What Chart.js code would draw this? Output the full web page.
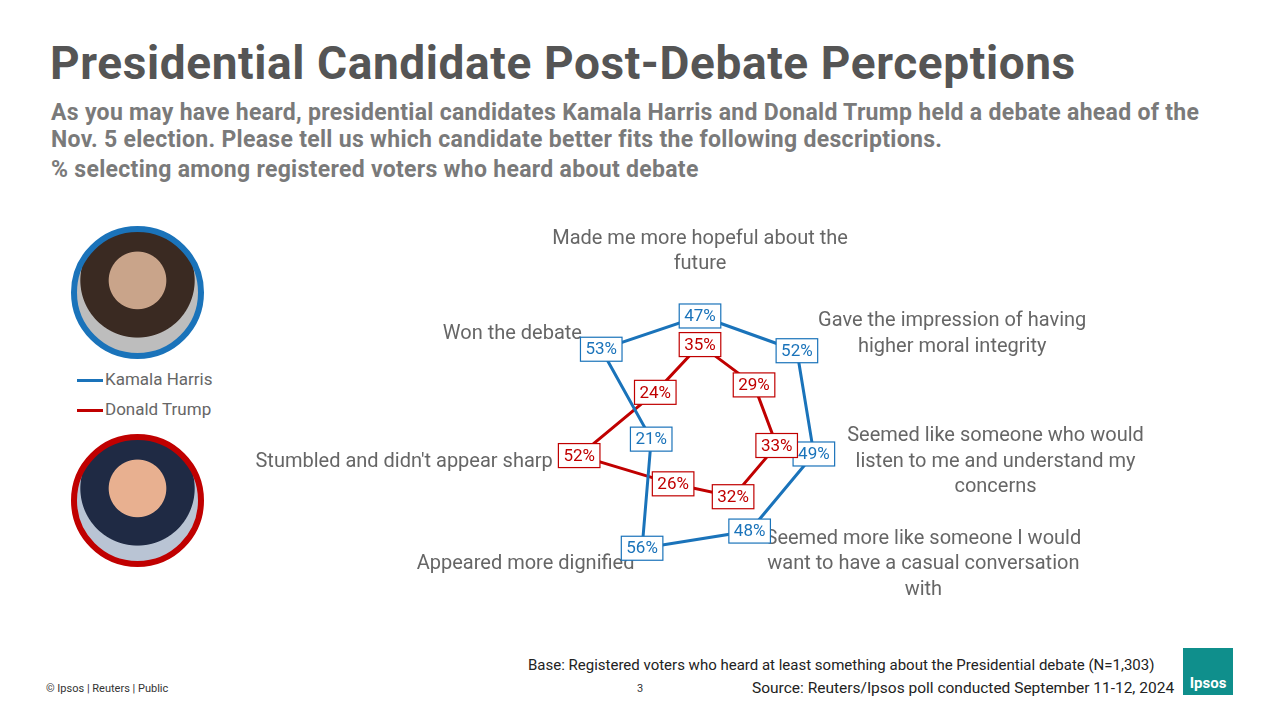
<!DOCTYPE html>
<html><head><meta charset="utf-8">
<script src="https://cdn.jsdelivr.net/npm/chart.js@4"></script>
<style>
body{margin:0;width:1280px;height:720px;background:#fff;font-family:Roboto,"Noto Sans",sans-serif;position:relative;overflow:hidden}
.t{position:absolute;white-space:nowrap}
#c{position:absolute;left:0;top:0}
.ph{position:absolute;border-radius:50%;box-sizing:border-box;background:radial-gradient(circle at 50% 40%,#c9a48a 0 30%,#3a2a22 31% 60%,#bdbdbd 61%)}
</style></head><body>
<div class="t" style="left:50px;top:36px;font-size:46px;font-weight:700;color:#555;letter-spacing:0.6px">Presidential Candidate Post-Debate Perceptions</div>
<div class="t" style="left:51px;top:99px;font-size:23px;font-weight:700;color:#7a7a7a;line-height:27px;letter-spacing:0.3px">As you may have heard, presidential candidates Kamala Harris and Donald Trump held a debate ahead of the<br>Nov. 5 election. Please tell us which candidate better fits the following descriptions.</div>
<div class="t" style="left:51px;top:156px;font-size:23px;font-weight:700;color:#7a7a7a;letter-spacing:0.3px">% selecting among registered voters who heard about debate</div>
<div class="ph" style="left:71px;top:226px;width:133px;height:133px;border:6px solid #1a73ba"></div>
<div class="ph" style="left:71px;top:434px;width:133px;height:133px;border:6px solid #c00000;background:radial-gradient(circle at 50% 40%,#e8b090 0 30%,#1f2a44 31% 60%,#b9c4d4 61%)"></div>
<div style="position:absolute;left:77px;top:379px;width:26px;height:3px;background:#1a73ba"></div>
<div class="t" style="left:105px;top:369px;font-size:17px;color:#666">Kamala Harris</div>
<div style="position:absolute;left:77px;top:409px;width:26px;height:3px;background:#c00000"></div>
<div class="t" style="left:105px;top:399px;font-size:17px;color:#666">Donald Trump</div>
<div class="t" style="left:528px;top:656px;font-size:15px;color:#222">Base: Registered voters who heard at least something about the Presidential debate (N=1,303)</div>
<div class="t" style="left:752px;top:679px;font-size:15.5px;color:#222">Source: Reuters/Ipsos poll conducted September 11-12, 2024</div>
<div class="t" style="left:46px;top:682px;font-size:11px;color:#333">© Ipsos | Reuters | Public</div>
<div class="t" style="left:637px;top:682px;font-size:11px;color:#333">3</div>
<div style="position:absolute;left:1183px;top:648px;width:50px;height:47px;background:#0f8f8c;color:#fff;font-weight:700;font-size:15px;text-align:center;line-height:70px">Ipsos</div>
<canvas id="c" width="1280" height="720"></canvas>
<script>
const categories=[
 ["Made me more hopeful about the","future"],
 ["Gave the impression of having","higher moral integrity"],
 ["Seemed like someone who would","listen to me and understand my","concerns"],
 ["Seemed more like someone I would","want to have a casual conversation","with"],
 ["Appeared more dignified"],
 ["Stumbled and didn't appear sharp"],
 ["Won the debate"]
];
const harris=[47,52,49,48,56,21,53];
const trump=[35,29,33,32,26,52,24];
const seriesNames=["Kamala Harris","Donald Trump"];
const colors=["#1a73ba","#c00000"];

const labelPlugin={id:'lbl',
 afterDraw(chart){
  const ctx=chart.ctx, s=chart.scales.r;
  ctx.save();
  ctx.font='20px Roboto'; ctx.fillStyle='#666'; ctx.textBaseline='middle';
  const lh=25.5;
  categories.forEach((lines,i)=>{
   const a=i*2*Math.PI/categories.length, sn=Math.sin(a), cs=Math.cos(a);
   const p=s.getPointPosition(i,s.drawingArea+8);
   const w=Math.max(...lines.map(l=>ctx.measureText(l).width));
   let cx=p.x; if(sn>0.1)cx=p.x+w/2; else if(sn<-0.1)cx=p.x-w/2;
   const h=lines.length*lh; let top;
   if(cs>0.9)top=p.y-h; else top=p.y-h/2;
   ctx.textAlign='center';
   lines.forEach((l,k)=>ctx.fillText(l,cx,top+lh*k+lh/2));
  });
  ctx.font='17px Roboto';
  chart.data.datasets.forEach((ds,di)=>{
   chart.getDatasetMeta(di).data.forEach((pt,j)=>{
    const txt=ds.data[j]+'%'; const w=ctx.measureText(txt).width+10, h=24;
    ctx.fillStyle='#fff'; ctx.fillRect(pt.x-w/2,pt.y-h/2,w,h);
    ctx.strokeStyle=colors[di]; ctx.lineWidth=1.2; ctx.strokeRect(pt.x-w/2,pt.y-h/2,w,h);
    ctx.fillStyle=colors[di]; ctx.textAlign='center'; ctx.fillText(txt,pt.x,pt.y+1);
   });
  });
  ctx.restore();
 }};

new Chart(document.getElementById('c'),{
 type:'radar',
 data:{labels:categories,datasets:[
  {label:seriesNames[0],data:harris,borderColor:colors[0],borderWidth:3,pointRadius:0,fill:false},
  {label:seriesNames[1],data:trump,borderColor:colors[1],borderWidth:3,pointRadius:0,fill:false}]},
 options:{responsive:false,animation:false,
  plugins:{legend:{display:false},tooltip:{enabled:false}},
  scales:{r:{min:0,max:60,ticks:{display:false},grid:{display:false},angleLines:{display:false},pointLabels:{display:false},
   afterFit(s){s.xCenter=700;s.yCenter=428;s.drawingArea=143;}}}},
 plugins:[labelPlugin]});
</script>
</body></html>
